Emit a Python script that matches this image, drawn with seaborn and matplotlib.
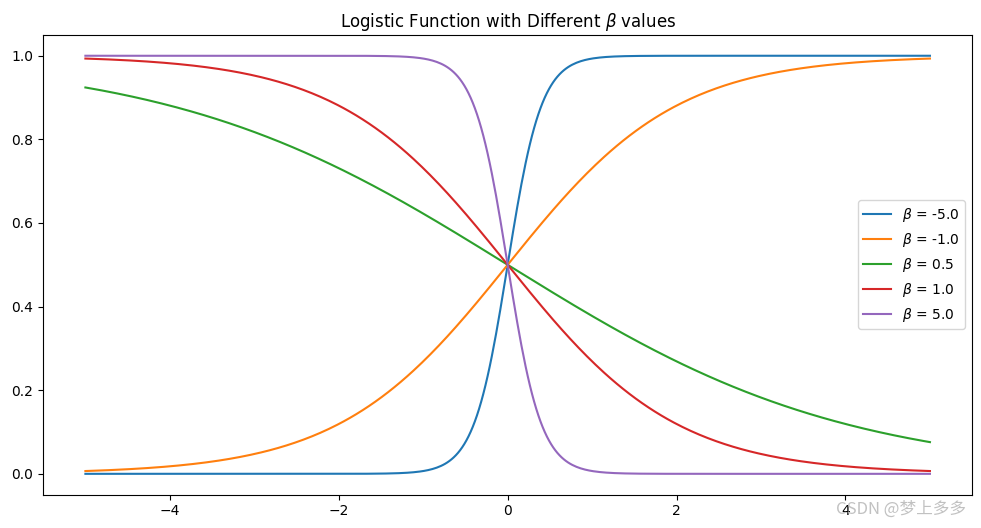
import numpy as np
import pandas as pd
import matplotlib
matplotlib.use("Agg")
import matplotlib.pyplot as plt
import seaborn as sns

# beta values shown in the legend
betas = [-5.0, -1.0, 0.5, 1.0, 5.0]
x_min, x_max, n_points = -5, 5, 400

x = np.linspace(x_min, x_max, n_points)
rows = []
for b in betas:
    y = 1 / (1 + np.exp(b * x))
    rows.append(pd.DataFrame({"x": x, "y": y, "beta": rf"$\beta$ = {b}"}))
df = pd.concat(rows, ignore_index=True)

fig, ax = plt.subplots(figsize=(9.81, 5.28), dpi=100)
sns.lineplot(data=df, x="x", y="y", hue="beta", palette="tab10", ax=ax, linewidth=1.5)
ax.set_title(r"Logistic Function with Different $\beta$ values")
ax.set_xlabel("")
ax.set_ylabel("")
ax.legend(loc="center right")
fig.subplots_adjust(left=0.044, right=0.991, top=0.934, bottom=0.063)
fig.text(0.985, 0.02, "CSDN @梦上多多", ha="right", va="bottom", fontsize=12,
         color="#bbbbbb", alpha=0.9, family=["Noto Sans CJK SC", "DejaVu Sans"])
plt.savefig("out.png", dpi=100)
plt.close()
